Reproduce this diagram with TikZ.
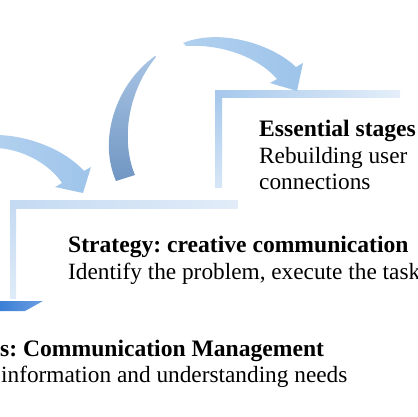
\documentclass[tikz,border=0pt]{standalone}
\usepackage{fontspec}
\setmainfont{Liberation Serif}
\frenchspacing
\definecolor{arrowblue}{RGB}{158,196,234}
\definecolor{arctop}{RGB}{168,196,228}
\definecolor{arcbot}{RGB}{112,150,194}
\definecolor{stepblue}{RGB}{166,200,236}
\definecolor{steplight}{RGB}{196,218,242}
\definecolor{wedgeblue}{RGB}{58,126,214}
\tikzset{
  txt/.style={anchor=base west, inner sep=0pt, font=\fontsize{23.3}{27}\selectfont},
  btxt/.style={anchor=base west, inner sep=0pt, font=\fontsize{23.6}{27}\selectfont\bfseries},
}
\begin{document}
\begin{tikzpicture}[x=1pt,y=-1pt]
\useasboundingbox (0,0) rectangle (417,417);
\clip (0,0) rectangle (417,417);
% top step
\shade[left color=stepblue, right color=stepblue!30] (215,91) rectangle (400,98);
\shade[top color=stepblue, bottom color=stepblue!45] (215,94) rectangle (222,187);
% middle step
\shade[left color=steplight, right color=steplight!50] (10,200) rectangle (238,208);
\shade[top color=steplight, bottom color=steplight!55] (10,204) rectangle (16,298);
% wedge
\shade[left color=wedgeblue, right color=wedgeblue!75] (-1,301) -- (43,301) -- (25,311) -- (-1,311) -- cycle;
% top arrow
\shade[left color=arrowblue!80, right color=arrowblue] (183,43) .. controls (220,28) and (272,44) .. (296,67)
  -- (303,63) -- (297,91) -- (270,83) -- (277,79)
  .. controls (256,55) and (218,44) .. (186,46) -- cycle;
% middle arc
\shade[top color=arctop, bottom color=arcbot] (155,56) .. controls (115,85) and (98,140) .. (116,181)
  -- (135,175) .. controls (122,145) and (125,95) .. (156,57) -- cycle;
% left arrow
\shade[left color=arrowblue!80, right color=arrowblue] (-2,135) .. controls (30,136) and (65,150) .. (84,171)
  -- (91,167) -- (83,193) -- (55,187) -- (62,183)
  .. controls (50,165) and (25,150) .. (-2,148) -- cycle;
% texts
\node[btxt] (t1) at (259,136) {Essential stages};
\node[txt] (t2) at (259,163) {Rebuilding user};
\node[txt] (t3) at (259,189) {connections};
\node[btxt] (t4) at (68,252) {Strategy: creative communication};
\node[txt] (t5) at (68,279) {Identify the problem, execute the task};
\node[btxt] (t6) at (0,356) {s: Communication Management};
\node[txt] (t7) at (1,382) {information and understanding needs};
\end{tikzpicture}
\end{document}
